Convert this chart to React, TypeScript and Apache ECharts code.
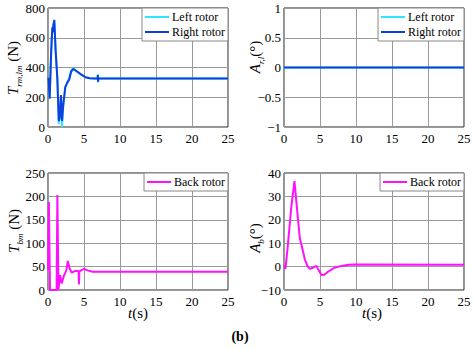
import React, { useEffect, useRef } from "react";
import * as echarts from "echarts";

// ---- Data ----
const tSide = [0, 0.08, 0.23, 0.45, 0.6, 0.68, 0.75, 0.88, 1.05, 1.3, 1.5, 1.62, 1.8, 1.95, 2.1, 2.4, 2.7, 2.95, 3.2, 3.5, 3.7, 4.0, 4.3, 4.7, 5.2, 5.8, 6.5, 6.9, 6.92, 6.95, 7.0, 25];
const leftRotorT = [330, 320, 195, 510, 660, 630, 680, 700, 530, 330, 20, 80, 200, 0, 130, 265, 300, 330, 380, 395, 385, 372, 362, 348, 334, 328, 326, 326, 355, 300, 326, 326];
const rightRotorT = [330, 320, 190, 520, 670, 640, 690, 720, 520, 320, 40, 60, 215, 40, 140, 270, 300, 320, 370, 390, 385, 375, 365, 350, 335, 328, 326, 326, 350, 305, 326, 326];

const tTilt = [0, 25];
const leftRotorA = [0, 0];
const rightRotorA = [0, 0];

const tBackT = [0, 0.12, 0.28, 0.5, 1.2, 1.3, 1.45, 1.5, 1.67, 1.9, 2.2, 2.55, 2.75, 3.0, 3.3, 3.8, 4.25, 4.3, 4.35, 4.6, 5.0, 5.5, 6.2, 7, 25];
const backRotorT = [43, 188, 0, 0, 0, 203, 0, 0, 32, 14, 30, 42, 62, 46, 37, 41, 40, 12, 40, 42, 45, 42, 39, 39, 39];

const tBackA = [0, 0.2, 0.5, 1.0, 1.45, 1.8, 2.2, 2.45, 2.9, 3.3, 3.6, 4.0, 4.5, 4.8, 5.2, 5.6, 6.2, 7.0, 8.0, 9.0, 10, 25];
const backRotorA = [0.5, -1, 8, 25, 36.5, 25, 12, 9, 3, 0, -1, -0.5, 0.3, -1.5, -3.6, -3.5, -2, -0.5, 0.3, 0.8, 0.9, 0.8];

const xTicks = [0, 5, 10, 15, 20, 25];

const pairs = (xs: number[], ys: number[]) => xs.map((x, i) => [x, ys[i]]);

const FONT = "'Liberation Serif', 'Times New Roman', serif";
const CYAN = "#30e6ff";
const BLUE = "#0f3fdc";
const MAGENTA = "#ff10ff";

export default function App() {
  const ref = useRef<HTMLDivElement>(null);
  useEffect(() => {
    document.body.style.margin = "0";
    if (!ref.current) return;
    const chart = echarts.init(ref.current, undefined, { renderer: "svg" });

    const grids = [
      { left: 48, top: 8, width: 180, height: 119 },
      { left: 284, top: 8, width: 180, height: 119 },
      { left: 48, top: 173, width: 180, height: 117 },
      { left: 284, top: 173, width: 180, height: 117 },
    ].map((g) => ({ ...g, show: true, borderColor: "#222", borderWidth: 1, backgroundColor: "#fff" }));

    const axisLabel = {
      color: "#000",
      fontFamily: FONT,
      fontSize: 13,
      fontStyle: "normal",
      fontWeight: "normal",
      formatter: (v: number) => String(v).replace("-", "\u2212"),
    };
    const splitLine = { show: true, lineStyle: { color: "#9a9a9a", width: 1 } };

    const xAxis = [0, 1, 2, 3].map((i) => ({
      type: "value",
      gridIndex: i,
      min: xTicks[0],
      max: xTicks[xTicks.length - 1],
      interval: 5,
      axisLine: { show: false },
      axisTick: { show: false },
      axisLabel: { ...axisLabel, margin: 5 },
      splitLine,
    }));

    const yRanges = [
      { min: 0, max: 800, interval: 200 },
      { min: -1, max: 1, interval: 0.5 },
      { min: 0, max: 250, interval: 50 },
      { min: -10, max: 40, interval: 10 },
    ];
    const yAxis = yRanges.map((r, i) => ({
      type: "value",
      gridIndex: i,
      ...r,
      axisLine: { show: false },
      axisTick: { show: false },
      axisLabel: { ...axisLabel, margin: 3 },
      splitLine,
    }));

    const line = (name: string, color: string, xi: number, data: number[][]) => ({
      type: "line",
      name,
      xAxisIndex: xi,
      yAxisIndex: xi,
      data,
      symbol: "none",
      lineStyle: { color, width: 2 },
      itemStyle: { color },
      z: name === "Right rotor" ? 3 : 2,
    });

    const series = [
      line("Left rotor", CYAN, 0, pairs(tSide, leftRotorT)),
      line("Right rotor", BLUE, 0, pairs(tSide, rightRotorT)),
      line("Left rotor", CYAN, 1, pairs(tTilt, leftRotorA)),
      line("Right rotor", BLUE, 1, pairs(tTilt, rightRotorA)),
      line("Back rotor", MAGENTA, 2, pairs(tBackT, backRotorT)),
      line("Back rotor", MAGENTA, 3, pairs(tBackA, backRotorA)),
    ];

    const legendBase = {
      orient: "vertical",
      backgroundColor: "#fff",
      borderColor: "#888",
      borderWidth: 1,
      borderRadius: 0,
      padding: [3, 3, 3, 3],
      itemGap: 3,
      itemWidth: 24,
      itemHeight: 2,
      icon: "rect",
      selectedMode: false,
      textStyle: { fontFamily: FONT, fontSize: 12, color: "#000", padding: [0, 0, 0, -2] },
    };
    const legend = [
      { ...legendBase, data: ["Left rotor", "Right rotor"], right: 474 - 228, top: 8 },
      { ...legendBase, data: ["Left rotor", "Right rotor"], right: 474 - 464, top: 8 },
      { ...legendBase, data: ["Back rotor"], right: 474 - 228, top: 173 },
      { ...legendBase, data: ["Back rotor"], right: 474 - 464, top: 173 },
    ];

    const richBase = {
      i: { fontFamily: FONT, fontSize: 15, fontStyle: "italic", verticalAlign: "middle", lineHeight: 20 },
      s: { fontFamily: FONT, fontSize: 9, fontStyle: "italic", verticalAlign: "bottom", lineHeight: 20 },
      n: { fontFamily: FONT, fontSize: 15, verticalAlign: "middle", lineHeight: 20 },
    };
    const yName = (x: number, y: number, text: string) => ({
      type: "text",
      x,
      y,
      rotation: Math.PI / 2,
      style: { text, rich: richBase, align: "center", verticalAlign: "middle", fill: "#000" },
    });

    const graphic = [
      yName(13, 68, "{i|T}{s|rm,lm}{n| (N)}"),
      yName(255, 57, "{i|A}{s|r,l}{n|(°)}"),
      yName(14, 231, "{i|T}{s|bm}{n| (N)}"),
      yName(255, 238, "{i|A}{s|b}{n|(°)}"),
      {
        type: "text",
        x: 138,
        y: 313,
        style: { text: "{i|t}{n|(s)}", rich: richBase, align: "center", verticalAlign: "middle", fill: "#000" },
      },
      {
        type: "text",
        x: 372,
        y: 313,
        style: { text: "{i|t}{n|(s)}", rich: richBase, align: "center", verticalAlign: "middle", fill: "#000" },
      },
      {
        type: "text",
        x: 240,
        y: 336,
        style: { text: "(b)", font: `bold 14px ${FONT}`, align: "center", verticalAlign: "middle", fill: "#000" },
      },
    ];

    chart.setOption({
      animation: false,
      backgroundColor: "#fff",
      textStyle: { fontFamily: FONT },
      grid: grids,
      xAxis,
      yAxis,
      series,
      legend,
      graphic,
    });
    return () => chart.dispose();
  }, []);
  return <div ref={ref} style={{ width: 474, height: 349 }} />;
}
